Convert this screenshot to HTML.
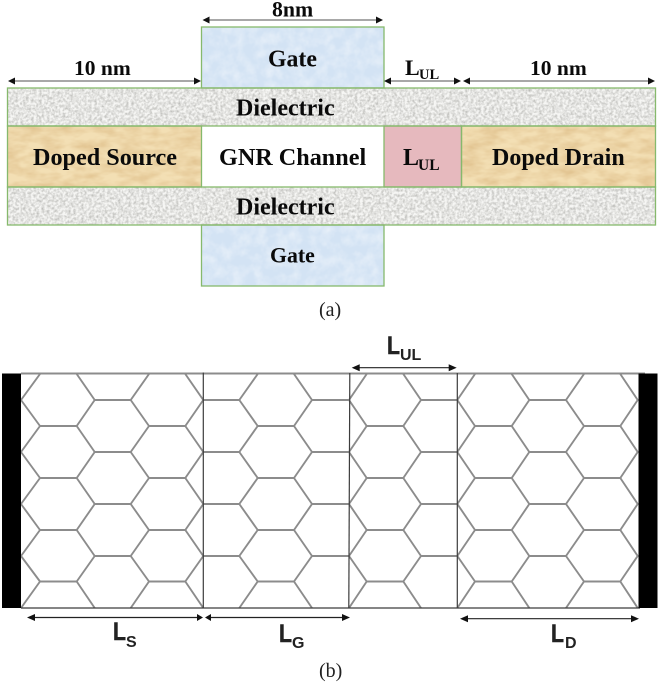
<!DOCTYPE html>
<html>
<head>
<meta charset="utf-8">
<style>
html,body{margin:0;padding:0;background:#fff;}
svg{display:block;}
.s{font-family:"Liberation Serif",serif;font-weight:bold;fill:#0a0a0a;}
.c{font-family:"Liberation Serif",serif;fill:#222;font-size:20px;}
.b{font-family:"Liberation Sans",sans-serif;font-weight:bold;fill:#222;}
</style>
</head>
<body>
<svg xmlns="http://www.w3.org/2000/svg" width="659" height="685" viewBox="0 0 659 685">
<defs>
<filter id="fd" x="0" y="0" width="100%" height="100%" color-interpolation-filters="sRGB">
<feTurbulence type="fractalNoise" baseFrequency="0.38" numOctaves="2" seed="4"/>
<feColorMatrix type="matrix" values="0 0 0 0 0.5  0 0 0 0 0.5  0 0 0 0 0.48  0.9 0 0 0 -0.3"/>
</filter>
<filter id="fg" x="0" y="0" width="100%" height="100%" color-interpolation-filters="sRGB">
<feTurbulence type="fractalNoise" baseFrequency="0.09" numOctaves="3" seed="9"/>
<feColorMatrix type="matrix" values="0 0 0 0 1  0 0 0 0 1  0 0 0 0 1  0.8 0 0 0 -0.28"/>
</filter>
<filter id="fs" x="0" y="0" width="100%" height="100%" color-interpolation-filters="sRGB">
<feTurbulence type="fractalNoise" baseFrequency="0.05 0.12" numOctaves="3" seed="2"/>
<feColorMatrix type="matrix" values="0 0 0 0 0.78  0 0 0 0 0.6  0 0 0 0 0.35  0.7 0 0 0 -0.22"/>
</filter>
</defs>

<rect width="659" height="685" fill="#fff"/>

<!-- Panel (a) fills -->
<rect x="201.5" y="27" width="182.5" height="61" fill="#d3e3f4"/>
<rect x="201.5" y="27" width="182.5" height="61" filter="url(#fg)"/>
<rect x="201.5" y="225" width="182.5" height="61" fill="#d3e3f4"/>
<rect x="201.5" y="225" width="182.5" height="61" filter="url(#fg)"/>
<rect x="7.5" y="88" width="648" height="38" fill="#f6f6f4"/>
<rect x="7.5" y="88" width="648" height="38" filter="url(#fd)"/>
<rect x="7.5" y="187" width="648" height="38" fill="#f6f6f4"/>
<rect x="7.5" y="187" width="648" height="38" filter="url(#fd)"/>
<rect x="7.5" y="126" width="194" height="61" fill="#f3dfb4"/>
<rect x="7.5" y="126" width="194" height="61" filter="url(#fs)"/>
<rect x="461.5" y="126" width="194" height="61" fill="#f3dfb4"/>
<rect x="461.5" y="126" width="194" height="61" filter="url(#fs)"/>
<rect x="384" y="126" width="77.5" height="61" fill="#e6b9be"/>
<rect x="201.5" y="126" width="182.5" height="61" fill="#fff"/>

<!-- Panel (a) outlines -->
<g fill="none" stroke="#86b96c" stroke-width="1.300">
<rect x="201.5" y="27" width="182.5" height="61"/>
<rect x="201.5" y="225" width="182.5" height="61"/>
<rect x="7.5" y="88" width="648" height="38"/>
<rect x="7.5" y="187" width="648" height="38"/>
<rect x="7.5" y="126" width="194" height="61"/>
<rect x="384" y="126" width="77.5" height="61"/>
<rect x="461.5" y="126" width="194" height="61"/>
</g>

<!-- Panel (a) arrows -->
<g stroke="#a8a8a8" stroke-width="2">
<line x1="206" y1="20" x2="379" y2="20"/>
<line x1="13" y1="81" x2="196" y2="81"/>
<line x1="389" y1="81" x2="456" y2="81"/>
<line x1="468" y1="81" x2="650" y2="81"/>
</g>
<g fill="#111">
<path d="M202.500 20l7-3.500v7zM383 20l-7-3.500v7z"/>
<path d="M8 81l7-3.500v7zM201 81l-7-3.500v7z"/>
<path d="M384 81l7-3.500v7zM461 81l-7-3.500v7z"/>
<path d="M463 81l7-3.500v7zM655 81l-7-3.500v7z"/>
</g>

<!-- Panel (a) labels -->
<text class="s" x="272" y="16.500" font-size="21.800">8nm</text>
<text class="s" x="268" y="66.500" font-size="23.800">Gate</text>
<text class="s" x="74" y="75" font-size="21.500">10 nm</text>
<text class="s" x="405" y="75" font-size="22">L</text>
<text class="s" x="419" y="79" font-size="14.500">UL</text>
<text class="s" x="530" y="75" font-size="21.500">10 nm</text>
<text class="s" x="236" y="115.500" font-size="24">Dielectric</text>
<text class="s" x="33" y="165" font-size="24.200">Doped Source</text>
<text class="s" x="219" y="165" font-size="24.200">GNR Channel</text>
<text class="s" x="403" y="165" font-size="24">L</text>
<text class="s" x="418" y="170" font-size="15.500">UL</text>
<text class="s" x="492" y="165" font-size="24">Doped Drain</text>
<text class="s" x="236" y="214.500" font-size="24">Dielectric</text>
<text class="s" x="270" y="262.500" font-size="21.800">Gate</text>
<text class="c" x="319" y="316">(a)</text>

<!-- Panel (b) lattice -->
<g fill="none" stroke="#8c8c8c" stroke-width="1.900" stroke-linejoin="round">
<!-- Source -->
<polyline points="40,374 21,400 40,426 21,452 40,478 21,504 40,530 21,556 40,581.500 21,608"/>
<polyline points="76.700,374 94.700,400 76.700,426 94.700,452 76.700,478 94.700,504 76.700,530 94.700,556 76.700,581.500 94.700,608"/>
<polyline points="149,374 130.700,400 149,426 130.700,452 149,478 130.700,504 149,530 130.700,556 149,581.500 130.700,608"/>
<polyline points="185.300,374 203.300,400 185.300,426 203.300,452 185.300,478 203.300,504 185.300,530 203.300,556 185.300,581.500 203.300,608"/>
<path d="M40 426H76.700M40 478H76.700M40 530H76.700M40 581.500H76.700M149 426H185.300M149 478H185.300M149 530H185.300M149 581.500H185.300M94.700 400H130.700M94.700 452H130.700M94.700 504H130.700M94.700 556H130.700"/>
<!-- Gate region -->
<polyline points="257.700,374 239.300,400 257.700,426 239.300,452 257.700,478 239.300,504 257.700,530 239.300,556 257.700,581.500 239.300,608"/>
<polyline points="294,374 312,400 294,426 312,452 294,478 312,504 294,530 312,556 294,581.500 312,608"/>
<path d="M257.700 426H294M257.700 478H294M257.700 530H294M257.700 581.500H294M203.300 400H239.300M203.300 452H239.300M203.300 504H239.300M203.300 556H239.300M312 400H349M312 452H349M312 504H349M312 556H349"/>
<!-- Underlap region -->
<polyline points="366.700,374 349,400 366.700,426 349,452 366.700,478 349,504 366.700,530 349,556 366.700,581.500 349,608"/>
<polyline points="403.300,374 421,400 403.300,426 421,452 403.300,478 421,504 403.300,530 421,556 403.300,581.500 421,608"/>
<path d="M366.700 426H403.300M366.700 478H403.300M366.700 530H403.300M366.700 581.500H403.300M421 400H457.300M421 452H457.300M421 504H457.300M421 556H457.300"/>
<!-- Drain -->
<polyline points="475,374 457.300,400 475,426 457.300,452 475,478 457.300,504 475,530 457.300,556 475,581.500 457.300,608"/>
<polyline points="511.700,374 529.300,400 511.700,426 529.300,452 511.700,478 529.300,504 511.700,530 529.300,556 511.700,581.500 529.300,608"/>
<polyline points="584,374 566,400 584,426 566,452 584,478 566,504 584,530 566,556 584,581.500 566,608"/>
<polyline points="620.300,374 637.700,400 620.300,426 637.700,452 620.300,478 637.700,504 620.300,530 637.700,556 620.300,581.500 637.700,608"/>
<path d="M475 426H511.700M475 478H511.700M475 530H511.700M475 581.500H511.700M584 426H620.300M584 478H620.300M584 530H620.300M584 581.500H620.300M529.300 400H566M529.300 452H566M529.300 504H566M529.300 556H566"/>
<!-- Top edge -->
<line x1="21" y1="373.500" x2="645" y2="373.500"/>
</g>

<!-- Panel (b) frame -->
<g stroke="#3c3c3c" stroke-width="1.200" fill="none">
<line x1="21" y1="608" x2="640" y2="608"/>
<line x1="203.300" y1="372.500" x2="203.300" y2="608"/>
<line x1="349.800" y1="373" x2="348.800" y2="608"/>
<line x1="457.300" y1="373" x2="457.300" y2="608"/>
</g>
<rect x="2" y="373.500" width="19" height="234.500" fill="#000"/>
<rect x="638.500" y="373.500" width="19" height="234.500" fill="#000"/>

<!-- Panel (b) arrows -->
<g stroke="#222" stroke-width="1.200">
<line x1="32" y1="617.500" x2="199" y2="617.500"/>
<line x1="208" y1="617.500" x2="346" y2="617.500"/>
<line x1="464" y1="618.700" x2="635" y2="618.700"/>
<line x1="356" y1="367.700" x2="452" y2="367.700"/>
</g>
<g fill="#111">
<path d="M27 617.500l8-3.500v7zM203 617.500l-6-3.500v7z"/>
<path d="M205 617.500l6-3.500v7zM350 617.500l-8-3.500v7z"/>
<path d="M460 618.700l8-3.500v7zM639 618.700l-8-3.500v7z"/>
<path d="M351.700 367.700l8-3.500v7zM456.700 367.700l-8-3.500v7z"/>
</g>

<!-- Panel (b) labels -->
<text class="b" x="113" y="640" font-size="25" textLength="13" lengthAdjust="spacingAndGlyphs" stroke="#222" stroke-width="0.500">L</text>
<text class="b" x="126" y="647" font-size="16">S</text>
<text class="b" x="279" y="642" font-size="25" textLength="13" lengthAdjust="spacingAndGlyphs" stroke="#222" stroke-width="0.500">L</text>
<text class="b" x="292" y="648" font-size="16">G</text>
<text class="b" x="387" y="354" font-size="25" textLength="13" lengthAdjust="spacingAndGlyphs" stroke="#222" stroke-width="0.500">L</text>
<text class="b" x="400" y="360" font-size="16">UL</text>
<text class="b" x="551" y="642" font-size="25" textLength="13" lengthAdjust="spacingAndGlyphs" stroke="#222" stroke-width="0.500">L</text>
<text class="b" x="565" y="648" font-size="16">D</text>
<text class="c" x="319" y="677">(b)</text>
</svg>
</body>
</html>
